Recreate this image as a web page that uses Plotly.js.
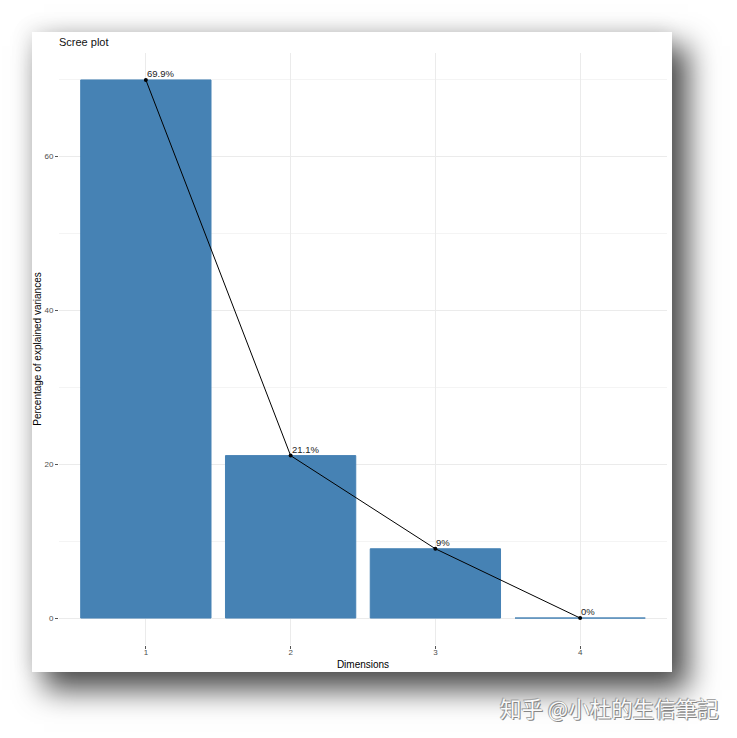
<!DOCTYPE html>
<html><head><meta charset="utf-8">
<script src="https://cdn.plot.ly/plotly-3.0.1.min.js"></script>
<style>
html,body{margin:0;padding:0;background:#fff;width:737px;height:738px;overflow:hidden;position:relative;}
#panel{position:absolute;left:32px;top:32px;width:640px;height:640px;background:#fff;
 box-shadow:14px 16px 28px 2px rgba(0,0,0,0.7), -4px -4px 18px rgba(0,0,0,0.08);}
#wm{position:absolute;left:500px;top:692px;font-family:"Noto Sans CJK SC";font-size:21.5px;color:#fafafa;
 text-shadow:0 0 1px #777,1px 1px 0 #888,-1px -1px 0 #aaa;white-space:nowrap;}
</style></head>
<body>
<div id="panel"></div>
<div id="wm">知乎 @小杜的生信筆記</div>
<script>
const dims = ["1","2","3","4"];
const variances = [69.9, 21.1, 9, 0];
const labels = ["69.9%","21.1%","9%","0%"];
const yTicks = [0,20,40,60];

const bar = {type:'bar', x:dims, y:variances, width:0.9,
  marker:{color:'#4682B4', line:{color:'#4682B4', width:1}}, hoverinfo:'skip'};
const line = {type:'scatter', mode:'lines+markers', x:dims, y:variances,
  line:{color:'#000', width:1}, marker:{color:'#000', size:4}, hoverinfo:'skip'};

// category axis: annotation x is the category index
const annotations = dims.map((d,i)=>({x:dims.indexOf(d), y:variances[i], text:labels[i], showarrow:false,
  xanchor:'left', yanchor:'bottom', xshift:-1, yshift:-1,
  font:{family:'Liberation Sans, Arial', size:9.5, color:'#222'}}));

const layout = {
  width:640, height:640, showlegend:false,
  paper_bgcolor:'rgba(0,0,0,0)', plot_bgcolor:'#fff',
  margin:{l:27, r:5, t:21, b:27},
  font:{family:'Liberation Sans, Arial'},
  annotations:annotations,
  title:{text:'Scree plot', x:0, xref:'paper', xanchor:'left', y:1-10/640, yref:'container', yanchor:'middle',
    font:{size:11, color:'#111'}},
  xaxis:{type:'category', range:[-0.6,3.6], showgrid:true, gridcolor:'#ebebeb', gridwidth:1,
    zeroline:false, showline:false, ticks:'outside', ticklen:3, tickcolor:'#555', tickwidth:1,
    ticklabelstandoff:-4,
    tickfont:{size:8, color:'#4d4d4d'},
    title:{text:'Dimensions', font:{size:10, color:'#000'}, standoff:5}},
  yaxis:{range:[-3.5,73.4], tickvals:yTicks, showgrid:true, gridcolor:'#ebebeb', gridwidth:1,
    minor:{tickvals:[10,30,50,70], showgrid:true, gridcolor:'#f4f4f4', gridwidth:1},
    zeroline:false, showline:false, ticks:'outside', ticklen:3, tickcolor:'#555', tickwidth:1,
    tickfont:{size:8, color:'#4d4d4d'},
    title:{text:'Percentage of explained variances', font:{size:10, color:'#000'}, standoff:0}}
};
Plotly.newPlot('panel', [bar, line], layout, {staticPlot:true, displayModeBar:false});
</script>
</body></html>
